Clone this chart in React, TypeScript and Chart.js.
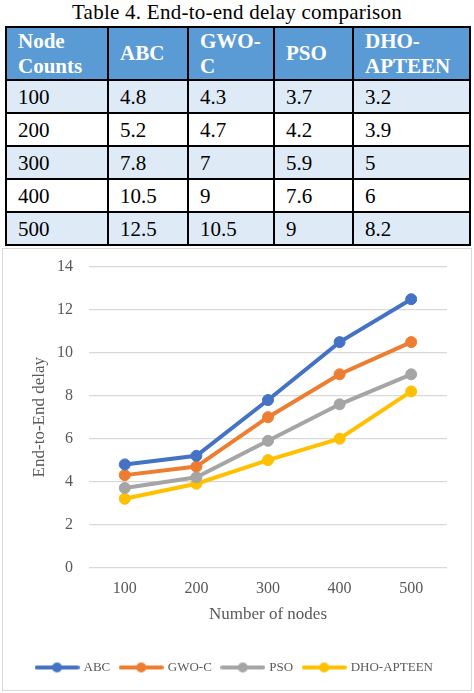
import React, { useEffect, useRef } from "react";
import { Chart, registerables } from "chart.js";

Chart.register(...registerables);

// Node counts on the x axis
const nodeCounts = ["100", "200", "300", "400", "500"];

// End-to-end delay per protocol
const abc = [4.8, 5.2, 7.8, 10.5, 12.5];
const gwoC = [4.3, 4.7, 7, 9, 10.5];
const pso = [3.7, 4.2, 5.9, 7.6, 9];
const dhoApteen = [3.2, 3.9, 5, 6, 8.2];

const seriesNames = ["ABC", "GWO-C", "PSO", "DHO-APTEEN"];
const seriesValues = [abc, gwoC, pso, dhoApteen];
const seriesColors = ["#4472C4", "#ED7D31", "#A5A5A5", "#FFC000"];

// y axis tick range
const yMin = 0;
const yMax = 14;
const yStep = 2;

const SERIF = "'Liberation Serif', 'Times New Roman', serif";

const tableTitle = "Table 4. End-to-end delay comparison";
const firstHeader = "Node Counts";
const xTitle = "Number of nodes";
const yTitle = "End-to-End delay";

// Line-with-dot swatch for legend entries
function makeSwatch(color: string): HTMLCanvasElement {
  const c = document.createElement("canvas");
  c.width = 45;
  c.height = 14;
  const ctx = c.getContext("2d")!;
  ctx.strokeStyle = color;
  ctx.lineWidth = 4;
  ctx.lineCap = "round";
  ctx.beginPath();
  ctx.moveTo(2, 7);
  ctx.lineTo(43, 7);
  ctx.stroke();
  ctx.fillStyle = color;
  ctx.beginPath();
  ctx.arc(22.5, 7, 5, 0, Math.PI * 2);
  ctx.fill();
  return c;
}

function DelayChart() {
  const ref = useRef<HTMLCanvasElement | null>(null);

  useEffect(() => {
    if (!ref.current) return;
    const swatches = seriesColors.map(makeSwatch);
    const chart = new Chart(ref.current, {
      type: "line",
      data: {
        labels: nodeCounts,
        datasets: seriesNames.map((name, i) => ({
          label: name,
          data: seriesValues[i],
          borderColor: seriesColors[i],
          backgroundColor: seriesColors[i],
          borderWidth: 4,
          pointRadius: 5.5,
          pointBorderWidth: 1,
          pointBackgroundColor: seriesColors[i],
          pointBorderColor: seriesColors[i],
          tension: 0,
          fill: false,
        })),
      },
      options: {
        animation: false,
        responsive: true,
        maintainAspectRatio: false,
        layout: { padding: { left: 20, right: 24, top: 18, bottom: 6 } },
        scales: {
          x: {
            offset: true,
            grid: { display: false, drawTicks: false },
            border: { display: false },
            ticks: {
              color: "#595959",
              padding: 12,
              font: { family: SERIF, size: 16 },
            },
            title: {
              display: true,
              text: xTitle,
              color: "#595959",
              font: { family: SERIF, size: 17 },
              padding: { top: -6, bottom: 25 },
            },
          },
          y: {
            min: yMin,
            max: yMax,
            afterFit: (scale: any) => {
              scale.width = 66;
            },
            ticks: {
              stepSize: yStep,
              color: "#595959",
              padding: 2,
              font: { family: SERIF, size: 16 },
            },
            // invisible tick marks keep the labels clear of the plot
            grid: {
              color: "#D9D9D9",
              lineWidth: 1.3,
              drawTicks: true,
              tickLength: 14,
              tickColor: "rgba(0,0,0,0)",
            },
            border: { display: false },
            title: {
              display: true,
              text: yTitle,
              color: "#595959",
              font: { family: SERIF, size: 17 },
              padding: { top: 6, bottom: 4 },
            },
          },
        },
        plugins: {
          tooltip: { enabled: false },
          legend: {
            position: "bottom",
            labels: {
              usePointStyle: true,
              pointStyleWidth: 40,
              padding: 11,
              color: "#595959",
              font: { family: SERIF, size: 13 },
              generateLabels: (c: Chart) =>
                c.data.datasets.map((ds, i) => ({
                  text: ds.label as string,
                  pointStyle: swatches[i],
                  fillStyle: seriesColors[i],
                  strokeStyle: seriesColors[i],
                  lineWidth: 0,
                  hidden: false,
                  datasetIndex: i,
                  fontColor: "#595959",
                })),
            },
          },
        },
      },
    });
    return () => chart.destroy();
  }, []);

  return (
    <div
      style={{
        position: "absolute",
        left: 2,
        top: 248,
        width: 468,
        height: 441,
        border: "1px solid #D9D9D9",
        background: "#fff",
      }}
    >
      <canvas ref={ref} />
    </div>
  );
}

const colWidths = [102, 80, 86, 79, 117];

function DelayTable() {
  const border = "2px solid #000";
  const headers = [firstHeader, ...seriesNames];
  return (
    <table
      style={{
        position: "absolute",
        left: 5,
        top: 26,
        width: 464,
        borderCollapse: "collapse",
        tableLayout: "fixed",
        fontFamily: SERIF,
        border,
      }}
    >
      <colgroup>
        {colWidths.map((w, i) => (
          <col key={i} style={{ width: w }} />
        ))}
      </colgroup>
      <thead>
        <tr style={{ height: 53, background: "#5B9BD5" }}>
          {headers.map((h, i) => (
            <th
              key={i}
              style={{
                border,
                color: "#fff",
                fontSize: 21,
                lineHeight: "25px",
                fontWeight: 700,
                textAlign: "left",
                padding: "0 0 0 11px",
                verticalAlign: "middle",
              }}
            >
              {h}
            </th>
          ))}
        </tr>
      </thead>
      <tbody>
        {nodeCounts.map((n, r) => (
          <tr key={n} style={{ height: 33, background: r % 2 === 0 ? "#DEEAF6" : "#fff" }}>
            {[n, ...seriesValues.map((s) => String(s[r]))].map((v, c) => (
              <td
                key={c}
                style={{
                  border,
                  fontSize: 21,
                  lineHeight: "24px",
                  padding: "0 0 0 11px",
                  color: "#000",
                  verticalAlign: "middle",
                }}
              >
                {v}
              </td>
            ))}
          </tr>
        ))}
      </tbody>
    </table>
  );
}

export default function App() {
  useEffect(() => {
    document.body.style.margin = "0";
  }, []);
  return (
    <div style={{ position: "relative", width: 474, height: 693, background: "#fff", fontFamily: SERIF }}>
      <div
        style={{
          position: "absolute",
          left: 0,
          top: 0,
          width: 474,
          textAlign: "center",
          fontSize: 21,
          lineHeight: "25px",
          letterSpacing: "0.25px",
          color: "#000",
        }}
      >
        {tableTitle}
      </div>
      <DelayTable />
      <DelayChart />
    </div>
  );
}
